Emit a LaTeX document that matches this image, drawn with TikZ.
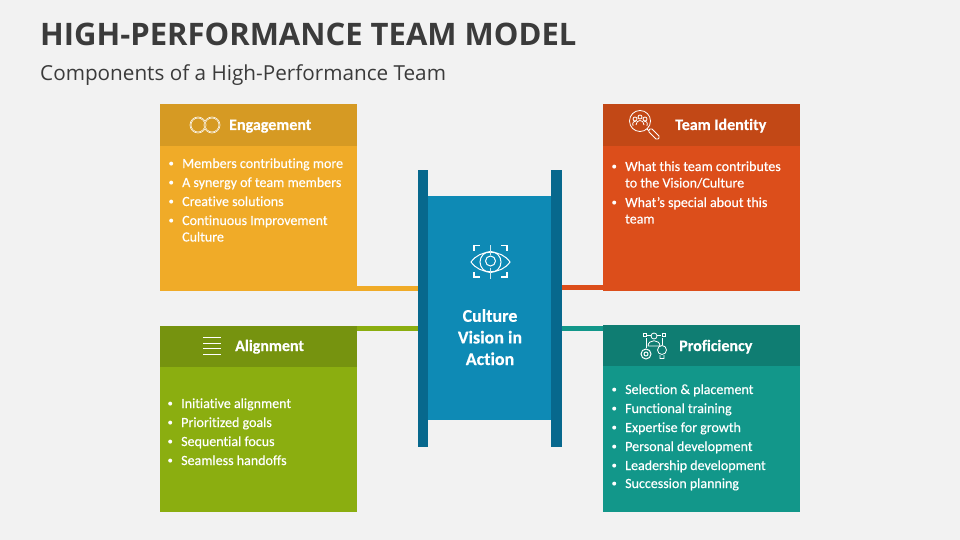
\documentclass[tikz,border=0pt]{standalone}
\usepackage{fontspec}
\setmainfont[Ligatures={NoCommon},FakeBold=0.35]{Carlito}
\newfontfamily\titlefont{Open Sans}
\definecolor{bgc}{HTML}{F2F2F2}
\definecolor{titlec}{HTML}{3B3B3B}
\definecolor{enghead}{HTML}{D69A23}\definecolor{engbody}{HTML}{F0AB28}
\definecolor{idhead}{HTML}{C24816}\definecolor{idbody}{HTML}{DC4E1B}
\definecolor{alhead}{HTML}{76930F}\definecolor{albody}{HTML}{8BAE10}
\definecolor{prhead}{HTML}{0F7D72}\definecolor{prbody}{HTML}{12978A}
\definecolor{midc}{HTML}{0E8AB5}\definecolor{postc}{HTML}{07688D}
\tikzset{
 x=1pt,y=-1pt,
 panel/.style={anchor=north west,inner sep=0pt,outer sep=0pt,minimum width=#1},
 panel/.default=197pt,
 head/.style={font=\fontsize{16}{18}\selectfont\bfseries,text=white,anchor=base west,inner sep=0pt},
 item/.style={font=\fontsize{14}{16.5}\selectfont,text=white,anchor=base west,inner sep=0pt},
 conn/.style={line width=5pt},
 ico/.style={draw=white,line width=0.8pt,fill=none},
}
\newcommand{\bl}[2][170pt]{\makebox[14pt][l]{\hspace{1pt}\raisebox{2.4pt}{\tikz\fill[white] (0,0) circle[radius=2pt];}}\parbox[t]{#1}{\raggedright #2}}
\begin{document}
\begin{tikzpicture}
\useasboundingbox (0,0) rectangle (960,540);
\fill[bgc] (0,0) rectangle (960,540);
\node[anchor=base west,inner sep=0pt,text=titlec,font=\titlefont\bfseries\fontsize{31}{36}\selectfont] (title) at (40,46) {HIGH-PERFORMANCE TEAM MODEL};
\node[anchor=base west,inner sep=0pt,text=titlec,font=\titlefont\fontsize{20.7}{24}\selectfont] (subtitle) at (40,81) {Components of a High-Performance Team};

% posts and centre
\node[panel=10pt,minimum height=277pt,fill=postc] (postL) at (418,170) {};
\node[panel=11pt,minimum height=277pt,fill=postc] (postR) at (551,170) {};
\node[panel=123pt,minimum height=224pt,fill=midc] (mid) at (428,196) {};
\node[font=\fontsize{18}{21.6}\selectfont\bfseries,text=white,align=center,anchor=north,inner sep=0pt] (midtext) at (490,309) {Culture\\Vision in\\Action};

% panels
\node[panel,minimum height=187pt,fill=engbody] (eB) at (160,104) {};
\node[panel,minimum height=42pt,fill=enghead] (eH) at (160,104) {};
\node[panel,minimum height=187pt,fill=idbody] (iB) at (603,104) {};
\node[panel,minimum height=42pt,fill=idhead] (iH) at (603,104) {};
\node[panel,minimum height=186pt,fill=albody] (aB) at (160,326) {};
\node[panel,minimum height=41pt,fill=alhead] (aH) at (160,326) {};
\node[panel,minimum height=187pt,fill=prbody] (pB) at (603,325) {};
\node[panel,minimum height=41pt,fill=prhead] (pH) at (603,325) {};

% connectors
\draw[conn,engbody] ([yshift=2.5pt]eB.south east) -- ([yshift=2.5pt]eB.south east -| postL.west);
\draw[conn,idbody] ([yshift=3.5pt]iB.south west) -- ([yshift=3.5pt]iB.south west -| postR.east);
\draw[conn,albody] ([yshift=-2.5pt]aH.north east) -- ([yshift=-2.5pt]aH.north east -| postL.west);
\draw[conn,prbody] ([yshift=-3pt]pH.north west) -- ([yshift=-3pt]pH.north west -| postR.east);

% headings
\node[head] (eT) at (229,130) {Engagement};
\node[head] (iT) at (675,130) {Team Identity};
\node[head] (aT) at (235,351) {Alignment};
\node[head] (pT) at (679,351) {Proficiency};

% bullets
\node[item] (e1) at (168,168) {\bl{Members contributing more}};
\node[item] (e2) at (168,187) {\bl{A synergy of team members}};
\node[item] (e3) at (168,206) {\bl{Creative solutions}};
\node[item] (e4) at (168,225) {\bl{Continuous Improvement\\Culture}};
\node[item] (i1) at (611,171) {\bl{What this team contributes\\to the Vision/Culture}};
\node[item] (i2) at (611,207) {\bl{What\symbol{39}s special about this\\team}};
\node[item] (a1) at (167,408) {\bl{Initiative alignment}};
\node[item] (a2) at (167,427) {\bl{Prioritized goals}};
\node[item] (a3) at (167,446) {\bl{Sequential focus}};
\node[item] (a4) at (167,465) {\bl{Seamless handoffs}};
\node[item] (p1) at (611,394) {\bl{Selection \& placement}};
\node[item] (p2) at (611,413) {\bl{Functional training}};
\node[item] (p3) at (611,432) {\bl{Expertise for growth}};
\node[item] (p4) at (611,451) {\bl{Personal development}};
\node[item] (p5) at (611,470) {\bl{Leadership development}};
\node[item] (p6) at (611,488) {\bl{Succession planning}};

% icon: rings
\draw[ico,line width=1.6pt] (198,125) circle (7.5);
\draw[ico,line width=1.6pt] (212,125) circle (7.5);
\draw[enghead,line width=0.3pt] (198,125) circle (7.5);
\draw[enghead,line width=0.3pt] (212,125) circle (7.5);

% icon: magnifier with people
\draw[ico] (640,121) circle (10.5);
\draw[ico] (635,119) circle (2) (645,119) circle (2) (640,117) circle (2);
\draw[ico] (633,126) .. controls (632,122) and (634,121) .. (636,121);
\draw[ico] (647,126) .. controls (648,122) and (646,121) .. (644,121);
\draw[ico] (636,125) .. controls (636,119) and (644,119) .. (644,125);
\draw[ico] (647,129) -- (649,131);
\draw[ico,rounded corners=1.5pt] (648,131) -- (651,128) -- (660,137) -- (657,140) -- cycle;

% icon: lines
\foreach \yy in {337,343,348.5,354.5}
  \draw[white,line width=1pt] (203,\yy) -- (221,\yy);

% icon: network / head, gear, bulb
\draw[ico,line width=0.8pt] (654,336) circle (3);
\draw[ico,line width=0.8pt] (648,346) .. controls (648,339) and (660,339) .. (660,346) -- cycle;
\draw[ico,line width=0.8pt] (651,335) -- (647,335) (657,335) -- (661,335);
\draw[ico,line width=0.8pt] (643,333.5) rectangle (646,336.5) (662,333.5) rectangle (665,336.5);
\draw[ico,line width=0.8pt] (646,338) -- (646,348) (662,338) -- (662,345);
\draw[ico,line width=1pt] (646,354) circle (5) (646,354) circle (2);
\draw[ico,line width=0.8pt] (662,350) circle (4.5) (660,355) -- (660,358.5) -- (664,358.5) -- (664,355);

% icon: eye with target
\draw[ico,line width=1pt] (471,262) .. controls (480,249) and (501,249) .. (510,262) .. controls (501,275) and (480,275) .. (471,262) -- cycle;
\draw[ico,line width=1pt] (490.5,261) circle (5);
\draw[ico,line width=1pt] (490.5,262) circle (10.5);
\draw[white!80!midc,line width=1.2pt] (490.5,245) -- (490.5,255) (490.5,268) -- (490.5,279);
\draw[ico,line width=1.2pt] (474,251) -- (474,245.5) -- (480,245.5) (501,245.5) -- (507,245.5) -- (507,251) (474,272) -- (474,277) -- (480,277) (501,277) -- (507,277) -- (507,272);
\end{tikzpicture}
\end{document}
